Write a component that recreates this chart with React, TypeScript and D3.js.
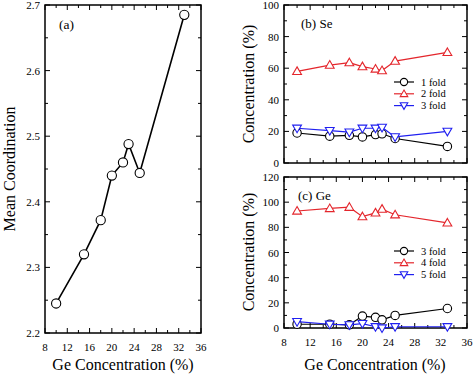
import React from "react";
import * as d3 from "d3";

// Ge concentration (%) shared by all panels
const geConc = [10, 15, 18, 20, 22, 23, 25, 33];

// (a) mean coordination
const meanCoord = [2.245, 2.32, 2.372, 2.44, 2.46, 2.488, 2.444, 2.685];

// (b) Se coordination fractions
const se1Fold = [19, 17, 17.5, 16.5, 18, 18.5, 15.5, 10.5];
const se2Fold = [58, 62, 63.5, 61, 59.5, 58.5, 64.5, 70];
const se3Fold = [22, 20.5, 19.5, 22, 22, 22.5, 16.5, 20];

// (c) Ge coordination fractions
const ge3Fold = [3, 3, 2.5, 9.5, 8.5, 6.5, 10, 15.5];
const ge4Fold = [93, 95, 96, 88.5, 91.5, 94.5, 90, 83.5];
const ge5Fold = [5, 3, 2.5, 3.5, 1, 0, 1, 1];

const xTicks = [8, 12, 16, 20, 24, 28, 32, 36];
const aTicks = [2.2, 2.3, 2.4, 2.5, 2.6, 2.7];
const bTicks = [0, 20, 40, 60, 80, 100];
const cTicks = [0, 20, 40, 60, 80, 100, 120];

const RED = "#e4262c";
const BLUE = "#2020f0";
const FONT = "'Liberation Serif', 'Times New Roman', serif";

type Shape = "circle" | "up" | "down";

function Marker({ x, y, shape, color, s = 4.2 }: { x: number; y: number; shape: Shape; color: string; s?: number }) {
  if (shape === "circle")
    return <circle cx={x} cy={y} r={s} fill="white" stroke={color} strokeWidth={1.1} />;
  const sym = d3.symbol().type(d3.symbolTriangle).size(s * s * 1.9)();
  return (
    <path
      d={sym as string}
      transform={`translate(${x},${y + (shape === "up" ? 0.6 : -0.6)}) rotate(${shape === "down" ? 180 : 0})`}
      fill="white"
      stroke={color}
      strokeWidth={1.1}
    />
  );
}

function Frame({
  x, y, xMinor, yMinor, yLabels, yFmt, showX,
}: {
  x: d3.ScaleLinear<number, number>;
  y: d3.ScaleLinear<number, number>;
  xMinor: number[];
  yMinor: number[];
  yLabels: number[];
  yFmt: (v: number) => string;
  showX: boolean;
}) {
  const [x0, x1] = x.range();
  const [y0, y1] = y.range();
  return (
    <g>
      {xMinor.map((v) => {
        const major = xTicks.includes(v);
        const len = major ? 5 : 3;
        return (
          <g key={"x" + v} stroke="black" strokeWidth={1}>
            <line x1={x(v)} x2={x(v)} y1={y0} y2={y0 - len} />
            <line x1={x(v)} x2={x(v)} y1={y1} y2={y1 + len} />
          </g>
        );
      })}
      {yMinor.map((v) => {
        const major = yLabels.some((t) => Math.abs(t - v) < 1e-9);
        const len = major ? 5 : 3;
        return (
          <g key={"y" + v} stroke="black" strokeWidth={1}>
            <line x1={x0} x2={x0 + len} y1={y(v)} y2={y(v)} />
            <line x1={x1} x2={x1 - len} y1={y(v)} y2={y(v)} />
          </g>
        );
      })}
      <rect x={x0} y={y1} width={x1 - x0} height={y0 - y1} fill="none" stroke="black" strokeWidth={1.5} />
      {yLabels.map((v) => (
        <text key={"yl" + v} x={x0 - 5} y={y(v) + 4} textAnchor="end" fontSize={11}>
          {yFmt(v)}
        </text>
      ))}
      {showX &&
        xTicks.map((v) => (
          <text key={"xl" + v} x={x(v)} y={y0 + 18} textAnchor="middle" fontSize={11}>
            {v}
          </text>
        ))}
    </g>
  );
}

function Series({
  x, y, vals, shape, color, lw = 1.2, r = 4.2,
}: {
  x: d3.ScaleLinear<number, number>;
  y: d3.ScaleLinear<number, number>;
  vals: number[];
  shape: Shape;
  color: string;
  lw?: number;
  r?: number;
}) {
  const line = d3.line<number>().x((_, i) => x(geConc[i])).y((d) => y(d));
  return (
    <g>
      <path d={line(vals) as string} fill="none" stroke={color} strokeWidth={lw} />
      {vals.map((v, i) => (
        <Marker key={i} x={x(geConc[i])} y={y(v)} shape={shape} color={color} s={r} />
      ))}
    </g>
  );
}

function Legend({ x, y, items }: { x: number; y: number; items: { label: string; shape: Shape; color: string }[] }) {
  return (
    <g>
      {items.map((it, i) => (
        <g key={it.label}>
          <line x1={x} x2={x + 20} y1={y + i * 11.8} y2={y + i * 11.8} stroke={it.color} strokeWidth={1.2} />
          <Marker x={x + 10} y={y + i * 11.8} shape={it.shape} color={it.color} s={3.6} />
          <text x={x + 27} y={y + i * 11.8 + 3.5} fontSize={10.5}>
            {it.label}
          </text>
        </g>
      ))}
    </g>
  );
}

export default function App() {
  const xA = d3.scaleLinear().domain([8, 36]).range([45, 201]);
  const yA = d3.scaleLinear().domain([2.2, 2.7]).range([333, 5]);
  const xR = d3.scaleLinear().domain([8, 36]).range([284, 467]);
  const yB = d3.scaleLinear().domain([0, 100]).range([163, 5]);
  const yC = d3.scaleLinear().domain([0, 120]).range([328, 177]);

  const minorX = d3.range(8, 36.01, 2);

  return (
    <svg
      width={474}
      height={374}
      style={{ position: "absolute", left: 0, top: 0, background: "white" }}
      fontFamily={FONT}
    >
      {/* panel (a) */}
      <Frame
        x={xA}
        y={yA}
        xMinor={minorX}
        yMinor={d3.range(0, 11).map((i) => 2.2 + i * 0.05)}
        yLabels={aTicks}
        yFmt={(v) => v.toFixed(1)}
        showX
      />
      <Series x={xA} y={yA} vals={meanCoord} shape="circle" color="black" lw={1.6} r={4.6} />
      <text x={59} y={29} fontSize={13.5}>(a)</text>
      <text transform="translate(15,169) rotate(-90)" textAnchor="middle" fontSize={16}>
        Mean Coordination
      </text>
      <text x={123} y={370} textAnchor="middle" fontSize={16}>
        Ge Concentration (%)
      </text>

      {/* panel (b) */}
      <Frame
        x={xR}
        y={yB}
        xMinor={minorX}
        yMinor={d3.range(0, 101, 10)}
        yLabels={bTicks}
        yFmt={(v) => String(v)}
        showX={false}
      />
      <Series x={xR} y={yB} vals={se1Fold} shape="circle" color="black" />
      <Series x={xR} y={yB} vals={se2Fold} shape="up" color={RED} />
      <Series x={xR} y={yB} vals={se3Fold} shape="down" color={BLUE} />
      <text x={301} y={28} fontSize={13}>(b) Se</text>
      <Legend
        x={394}
        y={82}
        items={[
          { label: "1 fold", shape: "circle", color: "black" },
          { label: "2 fold", shape: "up", color: RED },
          { label: "3 fold", shape: "down", color: BLUE },
        ]}
      />
      <text transform="translate(254,84) rotate(-90)" textAnchor="middle" fontSize={16}>
        Concentration (%)
      </text>

      {/* panel (c) */}
      <Frame
        x={xR}
        y={yC}
        xMinor={minorX}
        yMinor={d3.range(0, 121, 10)}
        yLabels={cTicks}
        yFmt={(v) => String(v)}
        showX
      />
      <Series x={xR} y={yC} vals={ge3Fold} shape="circle" color="black" />
      <Series x={xR} y={yC} vals={ge4Fold} shape="up" color={RED} />
      <Series x={xR} y={yC} vals={ge5Fold} shape="down" color={BLUE} />
      <text x={298} y={200} fontSize={13}>(c) Ge</text>
      <Legend
        x={394}
        y={251}
        items={[
          { label: "3 fold", shape: "circle", color: "black" },
          { label: "4 fold", shape: "up", color: RED },
          { label: "5 fold", shape: "down", color: BLUE },
        ]}
      />
      <text transform="translate(254,252) rotate(-90)" textAnchor="middle" fontSize={16}>
        Concentration (%)
      </text>
      <text x={375} y={370} textAnchor="middle" fontSize={16}>
        Ge Concentration (%)
      </text>
    </svg>
  );
}
